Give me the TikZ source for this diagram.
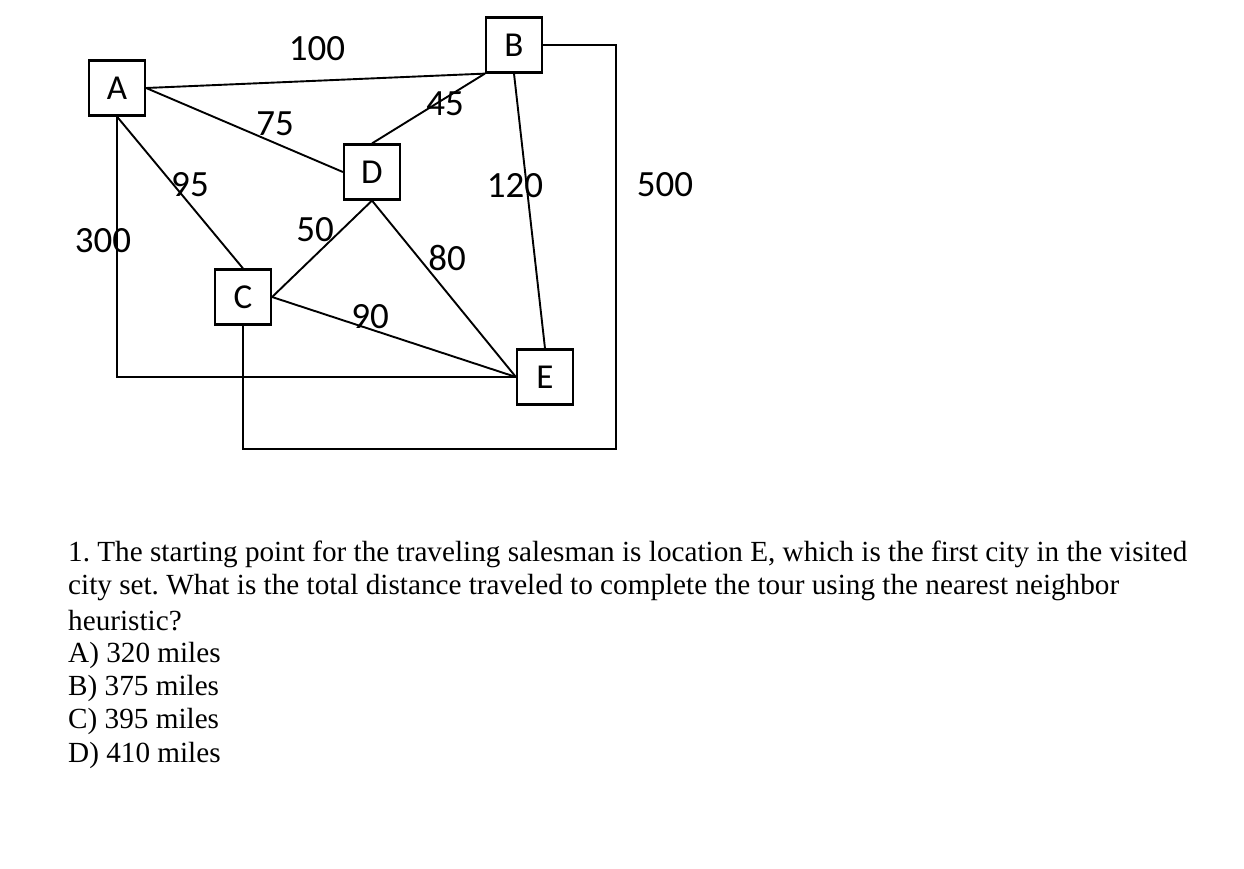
\documentclass[tikz,border=0pt]{standalone}
\usepackage{fontspec}
\setmainfont{Liberation Serif}
\newfontfamily\calfont{Carlito}
\begin{document}
\frenchspacing
\begin{tikzpicture}[x=1pt,y=-1pt,
  city/.style={draw,line width=2.2pt,minimum width=56pt,minimum height=55pt,inner sep=0pt,font=\calfont\fontsize{35}{35}\selectfont},
  lab/.style={font=\calfont\fontsize{37}{37}\selectfont,inner sep=0pt},
  q/.style={anchor=west,inner sep=0pt,font=\fontsize{29.2}{32}\selectfont},
  edge/.style={line width=1.9pt}]
\useasboundingbox (0,0) rectangle (1244,868);
\node[city] (A) at (117,88) {A};
\node[city] (B) at (514,45) {B};
\node[city] (D) at (372,172) {D};
\node[city] (C) at (243,297) {C};
\node[city] (E) at (545,377) {E};
\draw[edge] (A.east) -- (B.south west);
\draw[edge] (A.east) -- (D.west);
\draw[edge] (A.south) -- (C.north);
\draw[edge] (D.north) -- (B.south west);
\draw[edge] (D.south) -- (C.east);
\draw[edge] (D.south) -- (E.west);
\draw[edge] (C.east) -- (E.west);
\draw[edge] (B.south) -- (E.north);
\draw[edge] (A.south) |- (E.west);
\coordinate (r1) at (616,449);
\draw[edge] (C.south) |- (r1) |- (B.east);
\node[lab] (l100) at (317,49) {100};
\node[lab] (l75) at (275,124) {75};
\node[lab] (l45) at (445,104) {45};
\node[lab] (l95) at (190,185) {95};
\node[lab] (l300) at (103,241) {300};
\node[lab] (l50) at (315,230) {50};
\node[lab] (l120) at (515,186) {120};
\node[lab] (l500) at (665,185) {500};
\node[lab] (l80) at (447,258) {80};
\node[lab] (l90) at (370,317) {90};
\node[q] (q1) at (68,554) {1. The starting point for the traveling salesman is location E, which is the first city in the visited};
\node[q] (q2) at (68,588) {city set. What is the total distance traveled to complete the tour using the nearest neighbor};
\node[q] (q3) at (68,621) {heuristic?};
\node[q] (q4) at (68,655) {A) 320 miles};
\node[q] (q5) at (68,688) {B) 375 miles};
\node[q] (q6) at (68,721) {C) 395 miles};
\node[q] (q7) at (68,755) {D) 410 miles};
\end{tikzpicture}
\end{document}
